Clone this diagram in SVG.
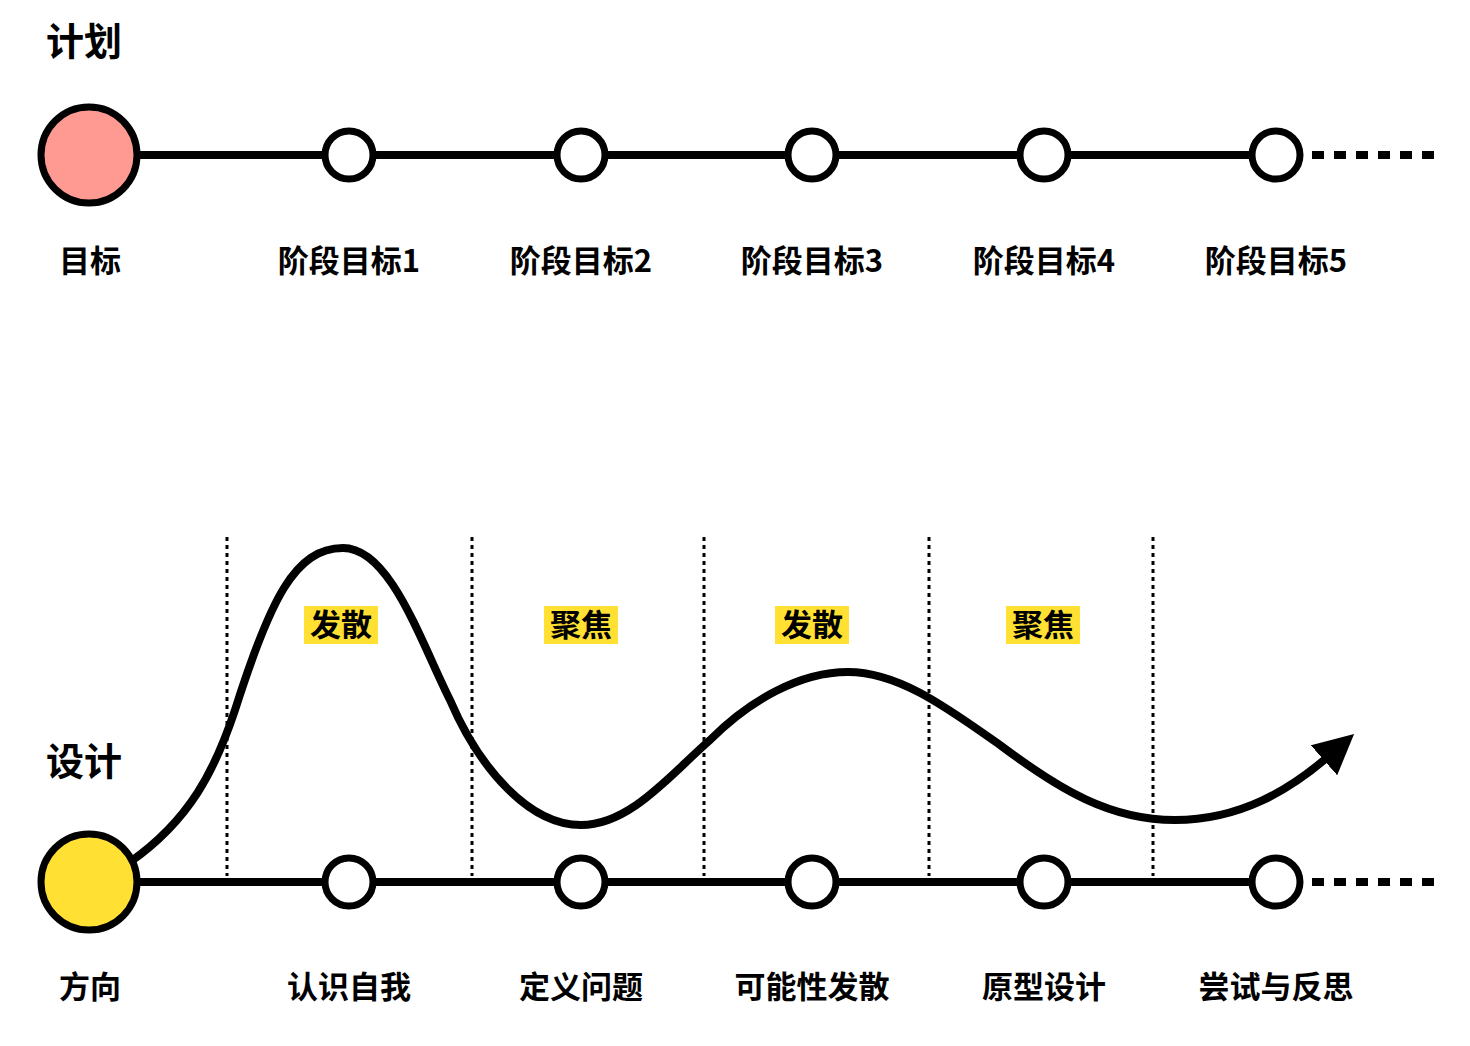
<svg xmlns="http://www.w3.org/2000/svg" width="1470" height="1046" viewBox="0 0 1470 1046">
<style>
text{font-family:"Noto Sans CJK SC","Liberation Sans",sans-serif;font-weight:bold;fill:#000}
.lbl{font-size:31px;text-anchor:middle}
.title{font-size:38px}
.hl{font-size:31px;text-anchor:middle}
.line{stroke:#000;stroke-width:8;fill:none}
.dots{stroke:#000;stroke-width:8;stroke-dasharray:12 10;fill:none}
.vd{stroke:#000;stroke-width:3;stroke-dasharray:4 4;fill:none}
.sm{fill:#fff;stroke:#000;stroke-width:7}
.hlbox{fill:#FFE033}
</style>
<defs>
<marker id="arr" viewBox="0 0 10 10" refX="2" refY="5" markerWidth="5" markerHeight="5" orient="auto" markerUnits="strokeWidth">
<path d="M0,0 L10,5 L0,10 Z" fill="#000"/>
</marker>
</defs>
<text class="title" x="46" y="55">计划</text>
<text class="title" x="46" y="775">设计</text>
<g id="connectors">
<line class="line" x1="89" y1="155" x2="1276" y2="155"/>
<line class="dots" x1="1312" y1="155" x2="1436" y2="155"/>
<line class="line" x1="89" y1="882" x2="1276" y2="882"/>
<line class="dots" x1="1312" y1="882" x2="1436" y2="882"/>
<line class="vd" x1="227" y1="537" x2="227" y2="876"/>
<line class="vd" x1="472" y1="537" x2="472" y2="876"/>
<line class="vd" x1="704" y1="537" x2="704" y2="876"/>
<line class="vd" x1="929" y1="537" x2="929" y2="876"/>
<line class="vd" x1="1153" y1="537" x2="1153" y2="876"/>
<path class="line" marker-end="url(#arr)" d="M130,862 C190,820 215,770 235,710 C270,600 295,548 343,548 C390,548 420,640 450,700 C480,770 530,825 581,825 C630,825 670,775 710,740 C750,700 800,672 848,672 C900,672 950,710 1000,745 C1060,790 1110,820 1175,820 C1240,820 1290,790 1330,755"/>
</g>
<g id="n-goal"><circle cx="89" cy="155" r="48" fill="#FF9A92" stroke="#000" stroke-width="7"/><text class="lbl" x="90" y="272">目标</text></g>
<g id="n-p1"><circle class="sm" cx="349" cy="155" r="24"/><text class="lbl" x="349" y="272">阶段目标1</text></g>
<g id="n-p2"><circle class="sm" cx="581" cy="155" r="24"/><text class="lbl" x="581" y="272">阶段目标2</text></g>
<g id="n-p3"><circle class="sm" cx="812" cy="155" r="24"/><text class="lbl" x="812" y="272">阶段目标3</text></g>
<g id="n-p4"><circle class="sm" cx="1044" cy="155" r="24"/><text class="lbl" x="1044" y="272">阶段目标4</text></g>
<g id="n-p5"><circle class="sm" cx="1276" cy="155" r="24"/><text class="lbl" x="1276" y="272">阶段目标5</text></g>
<g id="n-dir"><circle cx="89" cy="882" r="48" fill="#FFE033" stroke="#000" stroke-width="7"/><text class="lbl" x="90" y="998">方向</text></g>
<g id="n-d1"><circle class="sm" cx="349" cy="882" r="24"/><text class="lbl" x="349" y="998">认识自我</text></g>
<g id="n-d2"><circle class="sm" cx="581" cy="882" r="24"/><text class="lbl" x="581" y="998">定义问题</text></g>
<g id="n-d3"><circle class="sm" cx="812" cy="882" r="24"/><text class="lbl" x="812" y="998">可能性发散</text></g>
<g id="n-d4"><circle class="sm" cx="1044" cy="882" r="24"/><text class="lbl" x="1044" y="998">原型设计</text></g>
<g id="n-d5"><circle class="sm" cx="1276" cy="882" r="24"/><text class="lbl" x="1276" y="998">尝试与反思</text></g>
<g id="h1"><rect class="hlbox" x="304" y="606" width="74" height="38"/><text class="hl" x="341" y="636">发散</text></g>
<g id="h2"><rect class="hlbox" x="544" y="606" width="74" height="38"/><text class="hl" x="581" y="636">聚焦</text></g>
<g id="h3"><rect class="hlbox" x="775" y="606" width="74" height="38"/><text class="hl" x="812" y="636">发散</text></g>
<g id="h4"><rect class="hlbox" x="1006" y="606" width="74" height="38"/><text class="hl" x="1043" y="636">聚焦</text></g>
</svg>
